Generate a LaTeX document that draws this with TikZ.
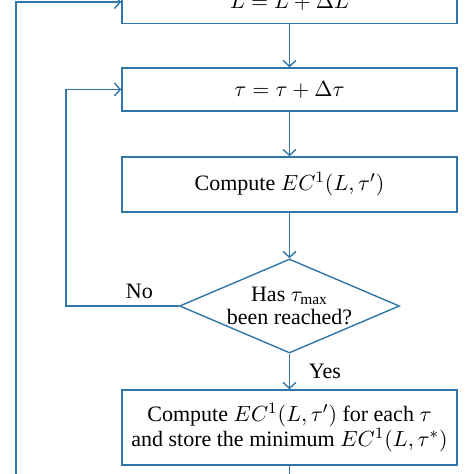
\documentclass[tikz,border=0pt]{standalone}
\usepackage{amsmath}
\usepackage{fontspec}
\setmainfont{Liberation Serif}
\usepackage{tikz}
\usetikzlibrary{arrows.meta, shapes, positioning}
\definecolor{flowblue}{RGB}{48,118,168}

\begin{document}
\begin{tikzpicture}[>={Straight Barb[length=3pt,width=6.5pt]}, line width=0.7pt, node distance=47.5pt,
 every node/.style={font=\fontsize{11}{11.5}\selectfont},
 main box/.style={rectangle,draw=flowblue,minimum width=167.5pt,align=center},
 check node/.style={diamond,draw=flowblue,shape aspect=2.34,inner sep=0pt,
   minimum width=110pt,minimum height=47pt,align=center},
 flow/.style={draw=flowblue,->}]
  \useasboundingbox (0,0) rectangle (237pt,-237pt);
  \clip (0,0) rectangle (237pt,-237pt);
   \node[main box, minimum height=21.5pt] (L) at (144.75pt,-1pt) {$L = L + \Delta L$};
   \node[main box, minimum height=21.5pt] (tau) [below of=L, node distance=43.75pt] {$\tau = \tau + \Delta\tau$};
   \node[main box, minimum height=27.5pt] (comp) [below of=tau] {Compute $EC^1(L, \tau')$};
   \node[check node] (check) [below of=comp, node distance=60.75pt] {Has $\tau_{\max}$\\been reached?};
   \node[main box, minimum height=37.5pt] (store) [below of=check, node distance=60.75pt]
     {Compute $EC^1(L, \tau')$ for each $\tau$\\and store the minimum $EC^1(L, \tau^*)$};
   \coordinate (outer) at (8pt,-245pt);
   \coordinate (inner) at (33pt,0pt);

  \foreach \s/\t in {L/tau, tau/comp, comp/check} {
   \draw[flow] (\s) -- (\t);}
  \draw[flow] (check) -- node[right, xshift=6pt] {Yes} (store);
  \draw[flow] (check.west) -- node[above, pos=0.35] {No} (check.west -| inner) |- (tau.west);
  \draw[flow] (store.south) |- (outer) |- (L.west);
\end{tikzpicture}
\end{document}
